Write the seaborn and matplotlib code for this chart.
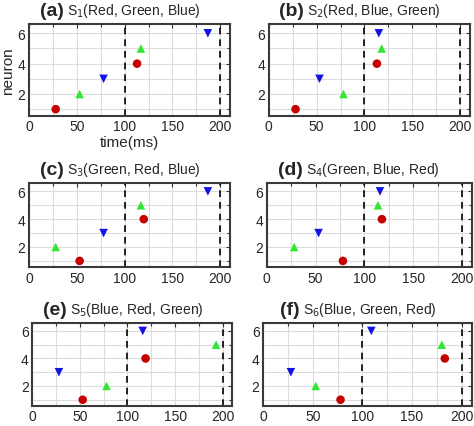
import numpy as np
import pandas as pd
import seaborn as sns
import matplotlib.pyplot as plt
from matplotlib.ticker import MultipleLocator

# dati: tempo (ms) e neurone per ogni pannello
panels = ["a", "b", "c", "d", "e", "f"]
subtitles = ["S$_1$(Red, Green, Blue)", "S$_2$(Red, Blue, Green)",
             "S$_3$(Green, Red, Blue)", "S$_4$(Green, Blue, Red)",
             "S$_5$(Blue, Red, Green)", "S$_6$(Blue, Green, Red)"]
colori_a = ["Red", "Green", "Blue", "Red", "Green", "Blue"]
tempi_a = [28, 53, 78, 113, 117, 187]
neuroni_a = [1, 2, 3, 4, 5, 6]
colori_b = ["Red", "Blue", "Green", "Red", "Green", "Blue"]
tempi_b = [28, 53, 78, 113, 118, 115]
neuroni_b = [1, 3, 2, 4, 5, 6]
colori_c = ["Green", "Red", "Blue", "Green", "Red", "Blue"]
tempi_c = [28, 53, 78, 117, 120, 187]
neuroni_c = [2, 1, 3, 5, 4, 6]
colori_d = ["Green", "Blue", "Red", "Green", "Red", "Blue"]
tempi_d = [28, 53, 78, 114, 118, 116]
neuroni_d = [2, 3, 1, 5, 4, 6]
colori_e = ["Blue", "Red", "Green", "Blue", "Red", "Green"]
tempi_e = [28, 53, 78, 116, 119, 193]
neuroni_e = [3, 1, 2, 6, 4, 5]
colori_f = ["Blue", "Green", "Red", "Blue", "Green", "Red"]
tempi_f = [28, 53, 78, 109, 180, 183]
neuroni_f = [3, 2, 1, 6, 5, 4]
linee = [100, 200]

righe = []
for p, t, n, c in zip(panels,
                      [tempi_a, tempi_b, tempi_c, tempi_d, tempi_e, tempi_f],
                      [neuroni_a, neuroni_b, neuroni_c, neuroni_d, neuroni_e, neuroni_f],
                      [colori_a, colori_b, colori_c, colori_d, colori_e, colori_f]):
    for ti, ni, ci in zip(t, n, c):
        righe.append({"pannello": p, "tempo": ti, "neurone": ni, "colore": ci})
df = pd.DataFrame(righe)

palette = {"Red": "#c40000", "Green": "#33e633", "Blue": "#1212e6"}
marker = {"Red": "o", "Green": "^", "Blue": "v"}

sns.set_theme(style="white")
plt.rcParams["font.family"] = ["Liberation Sans", "DejaVu Sans"]

fig = plt.figure(figsize=(4.74, 4.27), dpi=100)
# posizioni [left, bottom, width, height] in frazione della figura
pos = [[0.061, 0.726, 0.424, 0.215], [0.567, 0.726, 0.424, 0.215],
       [0.061, 0.372, 0.424, 0.197], [0.563, 0.372, 0.432, 0.197],
       [0.068, 0.047, 0.422, 0.195], [0.555, 0.047, 0.440, 0.195]]

for i, p in enumerate(panels):
    ax = fig.add_axes(pos[i])
    sub = df[df["pannello"] == p]
    sns.scatterplot(data=sub, x="tempo", y="neurone", hue="colore", style="colore",
                    palette=palette, markers=marker, s=38, edgecolor="none",
                    legend=False, ax=ax, zorder=3)
    for xv in linee:
        ax.axvline(xv, color="black", ls=(0, (4, 3)), lw=1.2, zorder=2)
    ax.set_xlim(0, 210)
    ax.set_ylim(0.55, 6.6)
    ax.xaxis.set_major_locator(MultipleLocator(50))
    ax.xaxis.set_minor_locator(MultipleLocator(25))
    ax.yaxis.set_major_locator(MultipleLocator(2))
    ax.yaxis.set_minor_locator(MultipleLocator(1))
    ax.grid(True, which="both", color="#dcdcdc", lw=0.8, zorder=0)
    ax.set_axisbelow(True)
    ax.tick_params(which="both", direction="in", top=True, right=True,
                   length=3, width=0.8, color="#333333", labelsize=10, pad=2.5)
    ax.tick_params(which="minor", length=2)
    for sp in ax.spines.values():
        sp.set_color("#3a3a3a")
        sp.set_linewidth(1.5)
    if i == 0:
        ax.set_xlabel("time(ms)", fontsize=11, labelpad=1)
        ax.set_ylabel("neuron", fontsize=11, labelpad=2)
    else:
        ax.set_xlabel("")
        ax.set_ylabel("")
    ax.text(0.175, 1.06, f"({p})", transform=ax.transAxes, ha="right", va="bottom",
            fontsize=14, fontweight="bold")
    ax.text(0.19, 1.06, subtitles[i], transform=ax.transAxes, ha="left", va="bottom",
            fontsize=10)

fig.savefig("out.png", dpi=100)
